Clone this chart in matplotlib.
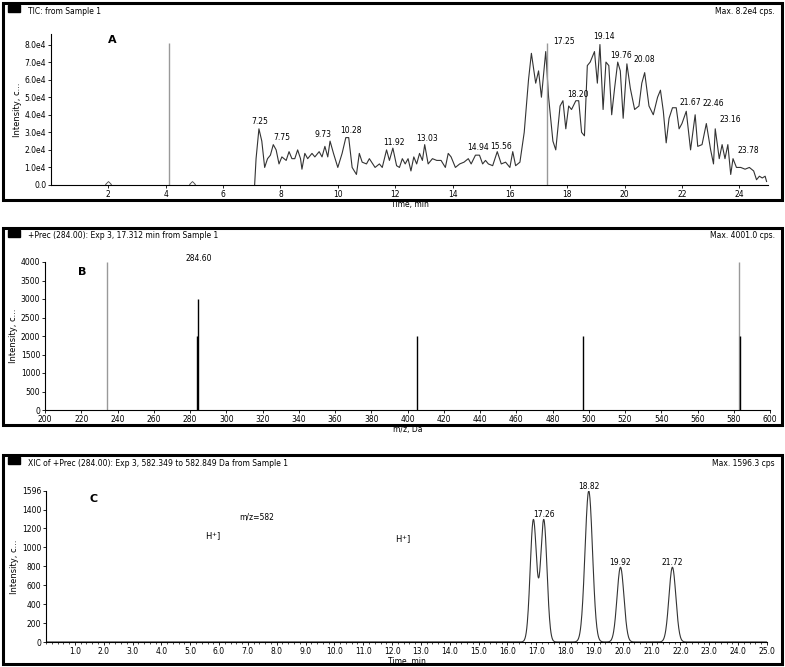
import numpy as np
import matplotlib
matplotlib.use("Agg")
import matplotlib.pyplot as plt
from matplotlib.patches import Rectangle

plt.rcParams['font.family'] = 'DejaVu Sans'
plt.rcParams['axes.linewidth'] = 0.8

# ---- panel A: TIC (time min, intensity 1e4 cps)
tic_t = [7.1, 7.15, 7.25, 7.35, 7.45, 7.55, 7.65, 7.75, 7.85, 7.95, 8.05, 8.2, 8.3, 8.4, 8.5, 8.6, 8.7, 8.75,
         8.85, 8.95, 9.1, 9.2, 9.35, 9.45, 9.55, 9.65, 9.73, 9.85, 10.0, 10.15, 10.28, 10.38, 10.5, 10.65,
         10.75, 10.85, 11.0, 11.1, 11.3, 11.45, 11.55, 11.7, 11.8, 11.92, 12.05, 12.15, 12.25, 12.35, 12.45,
         12.55, 12.65, 12.75, 12.85, 12.95, 13.03, 13.15, 13.3, 13.45, 13.6, 13.75, 13.85, 13.95, 14.1, 14.25,
         14.4, 14.55, 14.65, 14.8, 14.94, 15.05, 15.15, 15.25, 15.4, 15.56, 15.7, 15.85, 16.0, 16.1, 16.2,
         16.35, 16.5, 16.65, 16.75, 16.9, 17.0, 17.1, 17.25, 17.35, 17.5, 17.6, 17.75, 17.85, 17.95, 18.05,
         18.15, 18.3, 18.4, 18.5, 18.6, 18.7, 18.8, 18.95, 19.05, 19.14, 19.25, 19.35, 19.45, 19.55, 19.65,
         19.76, 19.85, 19.95, 20.08, 20.2, 20.35, 20.5, 20.6, 20.7, 20.85, 21.0, 21.15, 21.25, 21.35, 21.45,
         21.55, 21.67, 21.8, 21.9, 22.0, 22.15, 22.3, 22.46, 22.55, 22.7, 22.85, 23.0, 23.1, 23.16, 23.3, 23.4,
         23.5, 23.6, 23.7, 23.78, 23.9, 24.05, 24.2, 24.35, 24.5, 24.6, 24.7, 24.8, 24.9, 24.95]
tic_i = [0, 1.5, 3.2, 2.5, 1.0, 1.5, 1.7, 2.3, 2.0, 1.2, 1.6, 1.4, 1.9, 1.5, 1.5, 2.0, 1.5, 0.9,
         1.8, 1.5, 1.8, 1.6, 1.9, 1.6, 2.2, 1.6, 2.5, 1.8, 1.0, 1.8, 2.7, 2.7, 1.0, 0.6,
         1.8, 1.3, 1.2, 1.5, 1.0, 1.2, 1.0, 2.0, 1.4, 2.1, 1.1, 1.0, 1.5, 1.2, 1.5,
         0.8, 1.6, 1.2, 1.8, 1.4, 2.3, 1.2, 1.5, 1.4, 1.4, 1.0, 1.8, 1.6, 1.0, 1.2,
         1.3, 1.5, 1.2, 1.7, 1.7, 1.2, 1.4, 1.2, 1.1, 1.9, 1.2, 1.3, 1.0, 1.9, 1.1,
         1.3, 3.0, 6.0, 7.5, 5.8, 6.5, 5.0, 7.6, 5.0, 2.5, 2.0, 4.5, 4.8, 3.2, 4.5,
         4.3, 4.8, 4.8, 3.0, 2.8, 6.8, 7.0, 7.6, 5.8, 8.0, 4.3, 7.0, 6.8, 4.0, 5.5,
         7.0, 6.5, 3.8, 6.9, 5.5, 4.3, 4.5, 5.8, 6.4, 4.5, 4.0, 5.0, 5.4, 4.2, 2.4,
         3.8, 4.4, 4.4, 3.2, 3.5, 4.2, 2.0, 4.0, 2.2, 2.3, 3.5, 2.0, 1.2, 3.2, 1.5, 2.3,
         1.5, 2.3, 0.6, 1.5, 1.0, 1.0, 0.9, 1.0, 0.8, 0.3, 0.5, 0.4, 0.5, 0.2]
tic_labels = ["7.25", "7.75", "9.73", "10.28", "11.92", "13.03", "14.94", "15.56", "17.25",
              "18.20", "19.14", "19.76", "20.08", "21.67", "22.46", "23.16", "23.78"]
tic_label_pos = [(7.0, 3.45), (7.75, 2.55), (9.2, 2.75), (10.1, 2.95), (11.6, 2.3), (12.75, 2.5),
                 (14.5, 2.0), (15.3, 2.05), (17.5, 8.05), (18.0, 5.0), (18.9, 8.3), (19.5, 7.25),
                 (20.3, 7.0), (21.9, 4.55), (22.7, 4.5), (23.3, 3.6), (23.95, 1.85)]

# ---- panel B: product ion spectrum
ms_mz = [234, 284.0, 284.6, 405, 497, 583, 583.2]
ms_int = [4000, 2000, 3000, 2000, 2000, 4000, 2000]
ms_col = ['#999999', 'black', 'black', 'black', 'black', '#999999', 'black']

# ---- panel C: XIC peaks (centre, height, width)
xic_rt = [16.9, 17.26, 18.82, 19.92, 21.72]
xic_h = [1290, 1290, 1596, 790, 790]
xic_w = [0.11, 0.11, 0.13, 0.12, 0.12]
xic_labels = ["17.26", "18.82", "19.92", "21.72"]
xic_label_rt = [17.26, 18.82, 19.92, 21.72]
xic_label_h = [1320, 1620, 810, 810]

W, H = 785, 667
fig = plt.figure(figsize=(W / 100, H / 100), dpi=100)


def px(x0, y0, x1, y1):
    return [x0 / W, 1 - y1 / H, (x1 - x0) / W, (y1 - y0) / H]


def frame(y0, y1, title, maxtxt):
    fig.patches.append(Rectangle((3 / W, 1 - y1 / H), 779 / W, (y1 - y0) / H, transform=fig.transFigure,
                                 fill=False, lw=2.2, ec='black'))
    fig.patches.append(Rectangle((8 / W, 1 - (y0 + 9) / H), 12 / W, 7 / H, transform=fig.transFigure,
                                 color='black'))
    fig.text(28 / W, 1 - (y0 + 8) / H, title, fontsize=5.5, va='center')
    fig.text(775 / W, 1 - (y0 + 8) / H, maxtxt, fontsize=5.5, va='center', ha='right')


def style(ax):
    for s in ['top', 'right']:
        ax.spines[s].set_visible(False)
    ax.tick_params(labelsize=5.5, length=2, width=0.6, pad=1.5)
    ax.set_ylabel("Intensity, c...", fontsize=6, labelpad=2)


frame(3, 200, "TIC: from Sample 1", "Max. 8.2e4 cps.")
frame(228, 425, "+Prec (284.00): Exp 3, 17.312 min from Sample 1", "Max. 4001.0 cps.")
frame(455, 664, "XIC of +Prec (284.00): Exp 3, 582.349 to 582.849 Da from Sample 1", "Max. 1596.3 cps")

# A
ax = fig.add_axes(px(51, 34, 768, 185))
style(ax)
ax.plot(tic_t, tic_i, color='#333333', lw=0.8)
ax.vlines([4.1, 17.3], 0, 8.1, color='#999999', lw=1)
ax.plot([2, 4.9], [0.05, 0.05], 'D', ms=3, mfc='white', mec='#444444', mew=0.6)
for lab, (x, y) in zip(tic_labels, tic_label_pos):
    ax.text(x, y, lab, fontsize=5.5)
ax.set_xlim(0, 25)
ax.set_ylim(0, 8.6)
ax.set_xticks(range(2, 25, 2))
ax.set_yticks(np.arange(0, 8.1, 1))
ax.set_yticklabels(["0.0"] + ["%.1fe4" % v for v in range(1, 9)])
ax.set_xlabel("Time, min", fontsize=5.5, labelpad=1)
ax.text(2, 8.1, "A", fontsize=8, fontweight='bold')

# B
ax = fig.add_axes(px(45, 262, 770, 410))
style(ax)
ax.vlines(ms_mz, 0, ms_int, colors=ms_col, lw=1)
ax.text(284.6, 4020, "284.60", fontsize=5.5, ha='center')
ax.set_xlim(200, 600)
ax.set_ylim(0, 4000)
ax.set_xticks(range(200, 601, 20))
ax.set_yticks(range(0, 4001, 500))
ax.set_xlabel("m/z, Da", fontsize=5.5, labelpad=1)
ax.text(218, 3650, "B", fontsize=8, fontweight='bold')

# C
ax = fig.add_axes(px(46, 491, 767, 642))
style(ax)
t = np.linspace(0, 25, 2501)
y = np.zeros_like(t)
for c, h, w in zip(xic_rt, xic_h, xic_w):
    y += h * np.exp(-(t - c) ** 2 / (2 * w ** 2))
ax.plot(t, y, color='#333333', lw=0.8)
for lab, x, h in zip(xic_labels, xic_label_rt, xic_label_h):
    ax.text(x, h, lab, fontsize=5.5, ha='center')
ax.set_xlim(0, 25)
ax.set_ylim(0, 1596)
ax.set_xticks(np.arange(1, 25.1, 1))
ax.set_xticklabels(["%.1f" % v for v in np.arange(1, 25.1, 1)])
ax.set_xticks(np.arange(0, 25, 0.2), minor=True)
ax.tick_params(which='minor', length=1.2, width=0.5)
ax.set_yticks([0, 200, 400, 600, 800, 1000, 1200, 1400, 1596])
ax.set_xlabel("Time, min", fontsize=5.5, labelpad=1)
ax.text(1.5, 1480, "C", fontsize=8, fontweight='bold')
ax.text(6.7, 1300, "m/z=582", fontsize=5.5)
ax.text(5.5, 1080, "H$^{+}$]", fontsize=6)
ax.text(12.1, 1050, "H$^{+}$]", fontsize=6)

fig.savefig("out.png", dpi=100)
